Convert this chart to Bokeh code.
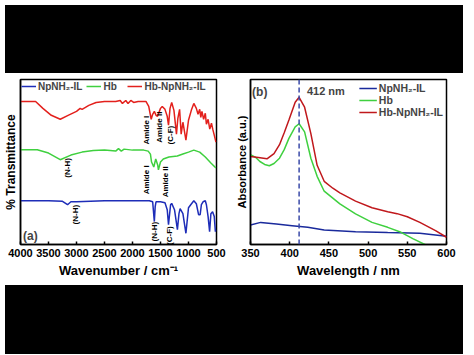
import math
from bokeh.plotting import figure
from bokeh.models import Range1d, FixedTicker, Span, Label, Div
from bokeh.layouts import column, row
from bokeh.embed import file_html
from bokeh.resources import INLINE

FONT = "Liberation Sans"

# ---------------- data: panel (a) FTIR ----------------
ftir_ticks = [4000, 3500, 3000, 2500, 2000, 1500, 1000, 500]

hbnp_wn = [4000, 3730, 3600, 3450, 3290, 3150, 3000, 2935, 2900, 2780, 2650, 2500, 2300,
           2220, 2180, 2120, 2080, 2030, 1980, 1900, 1760, 1710, 1666, 1640, 1610, 1580,
           1553, 1500, 1469, 1420, 1380, 1357, 1330, 1300, 1260, 1215, 1190, 1159, 1131,
           1100, 1046, 1000, 950, 905, 860, 830, 800, 780, 760, 730, 700, 680, 650, 620,
           590, 567, 540, 510]
hbnp_t = [86.7, 86.7, 82.5, 78.3, 75.9, 78.3, 80.7, 82.5, 81.9, 84.3, 86.1, 86.7, 86.7,
          87.3, 85.5, 87.3, 85.5, 87.3, 86.1, 86.7, 86.7, 83.7, 75.9, 78.9, 80.7, 78.3,
          77.7, 82.5, 83.7, 81.9, 77.7, 72.3, 82.5, 86.1, 81.3, 66.9, 76.5, 81.9, 66.9,
          74.1, 63.3, 75.3, 81.3, 85.5, 82.5, 78.9, 81.9, 77.1, 80.7, 75.9, 79.5, 72.9,
          75.9, 69.9, 73.5, 69.9, 66.3, 62.0]

hb_wn = [4000, 3700, 3500, 3290, 3100, 2900, 2700, 2500, 2300, 2250, 2200, 2150, 2000,
         1800, 1720, 1680, 1660, 1620, 1585, 1550, 1537, 1500, 1450, 1350, 1200, 1100,
         1000, 905, 800, 700, 600, 510]
hb_t = [57.4, 57.4, 55.4, 51.4, 54.2, 56.0, 56.9, 57.2, 56.6, 58.1, 56.6, 57.8, 57.2,
        57.2, 56.6, 54.8, 50.0, 47.0, 51.8, 48.2, 45.2, 50.0, 51.8, 53.0, 53.6, 54.8,
        56.0, 57.2, 56.0, 53.0, 49.4, 46.4]

np_wn = [4000, 3500, 3250, 3160, 3100, 3000, 2500, 2000, 1700, 1640, 1610, 1595, 1580,
         1500, 1420, 1380, 1357, 1320, 1300, 1250, 1198, 1170, 1150, 1100, 1046, 1000,
         960, 905, 860, 820, 792, 770, 740, 700, 680, 650, 623, 600, 570, 540, 520, 510]
np_t = [26.5, 26.5, 26.2, 24.1, 25.9, 25.9, 26.5, 26.5, 26.5, 25.9, 13.9, 22.9, 25.9,
        25.9, 25.3, 21.1, 12.0, 24.1, 24.9, 21.1, 9.0, 18.7, 21.7, 18.7, 6.8, 22.3,
        24.1, 26.5, 24.7, 18.1, 18.1, 24.1, 25.9, 26.5, 24.1, 16.9, 7.8, 18.7, 19.9,
        16.9, 7.8, 9.0]

# band annotations: (text, wavenumber, level)
ftir_notes = [
    ("(N-H)", 3154, 46.4),
    ("(N-H)", 3019, 18.1),
    ("Amide I", 1751, 69.3),
    ("Amide II", 1514, 71.1),
    ("(C-F)", 1328, 66.3),
    ("Amide I", 1751, 39.2),
    ("Amide II", 1413, 38.0),
    ("(N-H)", 1599, 7.8),
    ("(C-F)", 1345, 5.4),
]

# ---------------- data: panel (b) UV-vis ----------------
uv_ticks = [350, 400, 450, 500, 550, 600]

hbnp_nm = [350, 360, 371, 380, 387, 393, 399, 407, 412, 419, 427, 435, 444, 455, 464,
           484, 505, 525, 537, 550, 566, 586, 600]
hbnp_abs = [0.533, 0.527, 0.519, 0.551, 0.605, 0.677, 0.754, 0.862, 0.892, 0.832, 0.672,
            0.480, 0.383, 0.341, 0.313, 0.263, 0.223, 0.199, 0.187, 0.168, 0.134, 0.084,
            0.044]

hb_nm = [350, 356, 362, 368, 374, 380, 387, 393, 399, 407, 412, 419, 427, 435, 444, 464,
         484, 505, 525, 542, 557, 575]
hb_abs = [0.545, 0.530, 0.503, 0.485, 0.477, 0.491, 0.523, 0.575, 0.643, 0.713, 0.732,
          0.683, 0.523, 0.413, 0.323, 0.246, 0.186, 0.134, 0.104, 0.074, 0.036, -0.006]

np_nm = [350, 363, 383, 403, 423, 444, 484, 525, 566, 600]
np_abs = [0.118, 0.134, 0.124, 0.114, 0.104, 0.088, 0.078, 0.072, 0.068, 0.050]

peak_nm = 412

RED_A = "#e3201c"
RED_B = "#c0181c"
GREEN = "#3fd03f"
BLUE_A = "#1e2db8"
BLUE_B = "#1a2a9c"


def style(p, xlabel, ylabel, ticks):
    p.xgrid.visible = False
    p.ygrid.visible = False
    p.outline_line_color = "black"
    p.outline_line_width = 1.5
    p.background_fill_color = "white"
    p.border_fill_color = "white"
    xa = p.xaxis[0]
    xa.ticker = FixedTicker(ticks=ticks)
    xa.axis_label = xlabel
    xa.major_tick_in = 3
    xa.major_tick_out = 0
    xa.minor_tick_line_color = None
    xa.major_label_standoff = 4
    xa.axis_label_standoff = 3
    ya = p.yaxis[0]
    ya.ticker = FixedTicker(ticks=[])
    ya.axis_label = ylabel
    ya.major_tick_line_color = None
    ya.minor_tick_line_color = None
    ya.major_label_standoff = 0
    ya.axis_label_standoff = 3
    for ax in (xa, ya):
        ax.axis_line_color = "black"
        ax.axis_line_width = 1.5
        ax.major_tick_line_width = 1.5
        ax.major_label_text_font = FONT
        ax.major_label_text_font_style = "bold"
        ax.major_label_text_font_size = "11px"
        ax.major_label_text_color = "black"
        ax.axis_label_text_font = FONT
        ax.axis_label_text_font_style = "bold"
        ax.axis_label_text_color = "black"
    xa.axis_label_text_font_size = "13px"


# ---------------- panel (a) ----------------
pa = figure(width=230, height=202, output_backend="svg", toolbar_location=None,
            x_range=Range1d(4000, 500), y_range=Range1d(0, 100),
            min_border_left=16, min_border_right=14, min_border_top=1, min_border_bottom=35)
style(pa, "Wavenumber / cm\u207b\u00b9", "% Transmittance", ftir_ticks)
pa.yaxis[0].axis_label_text_font_size = "12px"

pa.line(np_wn, np_t, color=BLUE_A, line_width=1.5, legend_label="NpNH\u2082-IL")
pa.line(hb_wn, hb_t, color=GREEN, line_width=1.5, legend_label="Hb")
pa.line(hbnp_wn, hbnp_t, color=RED_A, line_width=1.5, legend_label="Hb-NpNH\u2082-IL")

for txt, wn, lv in ftir_notes:
    pa.add_layout(Label(x=wn, y=lv, text=txt, angle=math.pi / 2, text_align="center",
                        text_baseline="middle", text_font=FONT, text_font_style="bold",
                        text_font_size="8px", text_color="black"))
pa.add_layout(Label(x=3955, y=1.2, text="(a)", text_align="left", text_baseline="bottom",
                    text_font=FONT, text_font_style="bold", text_font_size="12px"))

lg = pa.legend[0]
lg.orientation = "horizontal"
lg.location = "top_left"
lg.background_fill_alpha = 0
lg.border_line_color = None
lg.padding = 0
lg.margin = 1
lg.spacing = 4
lg.glyph_width = 15
lg.glyph_height = 12
lg.label_standoff = 2
lg.label_text_font = FONT
lg.label_text_font_style = "bold"
lg.label_text_font_size = "10px"
lg.label_height = 12

# ---------------- panel (b) ----------------
pb = figure(width=228, height=202, output_backend="svg", toolbar_location=None,
            x_range=Range1d(350, 600), y_range=Range1d(0, 1),
            min_border_left=20, min_border_right=12, min_border_top=1, min_border_bottom=34)
style(pb, "Wavelength / nm", "Absorbance (a.u.)", uv_ticks)
pb.yaxis[0].axis_label_text_font_size = "11px"

pb.add_layout(Span(location=peak_nm, dimension="height", line_color="#3a4aa8",
                   line_dash="5 3", line_width=1.5))
pb.line(np_nm, np_abs, color=BLUE_B, line_width=1.5, legend_label="NpNH\u2082-IL")
pb.line(hb_nm, hb_abs, color=GREEN, line_width=1.5, legend_label="Hb")
pb.line(hbnp_nm, hbnp_abs, color=RED_B, line_width=1.5, legend_label="Hb-NpNH\u2082-IL")

pb.add_layout(Label(x=352, y=0.965, text="(b)", text_align="left", text_baseline="top",
                    text_font=FONT, text_font_style="bold", text_font_size="12px"))
pb.add_layout(Label(x=422, y=0.928, text=f"{peak_nm} nm", text_align="left",
                    text_baseline="middle", text_font=FONT, text_font_style="bold",
                    text_font_size="11px"))

lb = pb.legend[0]
lb.location = "top_right"
lb.background_fill_alpha = 0
lb.border_line_color = None
lb.padding = 0
lb.margin = 3
lb.spacing = 0
lb.glyph_width = 18
lb.glyph_height = 8
lb.label_height = 8
lb.label_standoff = 2
lb.label_text_font = FONT
lb.label_text_font_style = "bold"
lb.label_text_font_size = "10.5px"

top = Div(text="", width=458, height=68, styles={"background-color": "black"})
bottom = Div(text="", width=458, height=69, styles={"background-color": "black"})
layout = column(top, row(pa, pb), bottom)

open("out.html", "w").write(file_html(layout, INLINE))
